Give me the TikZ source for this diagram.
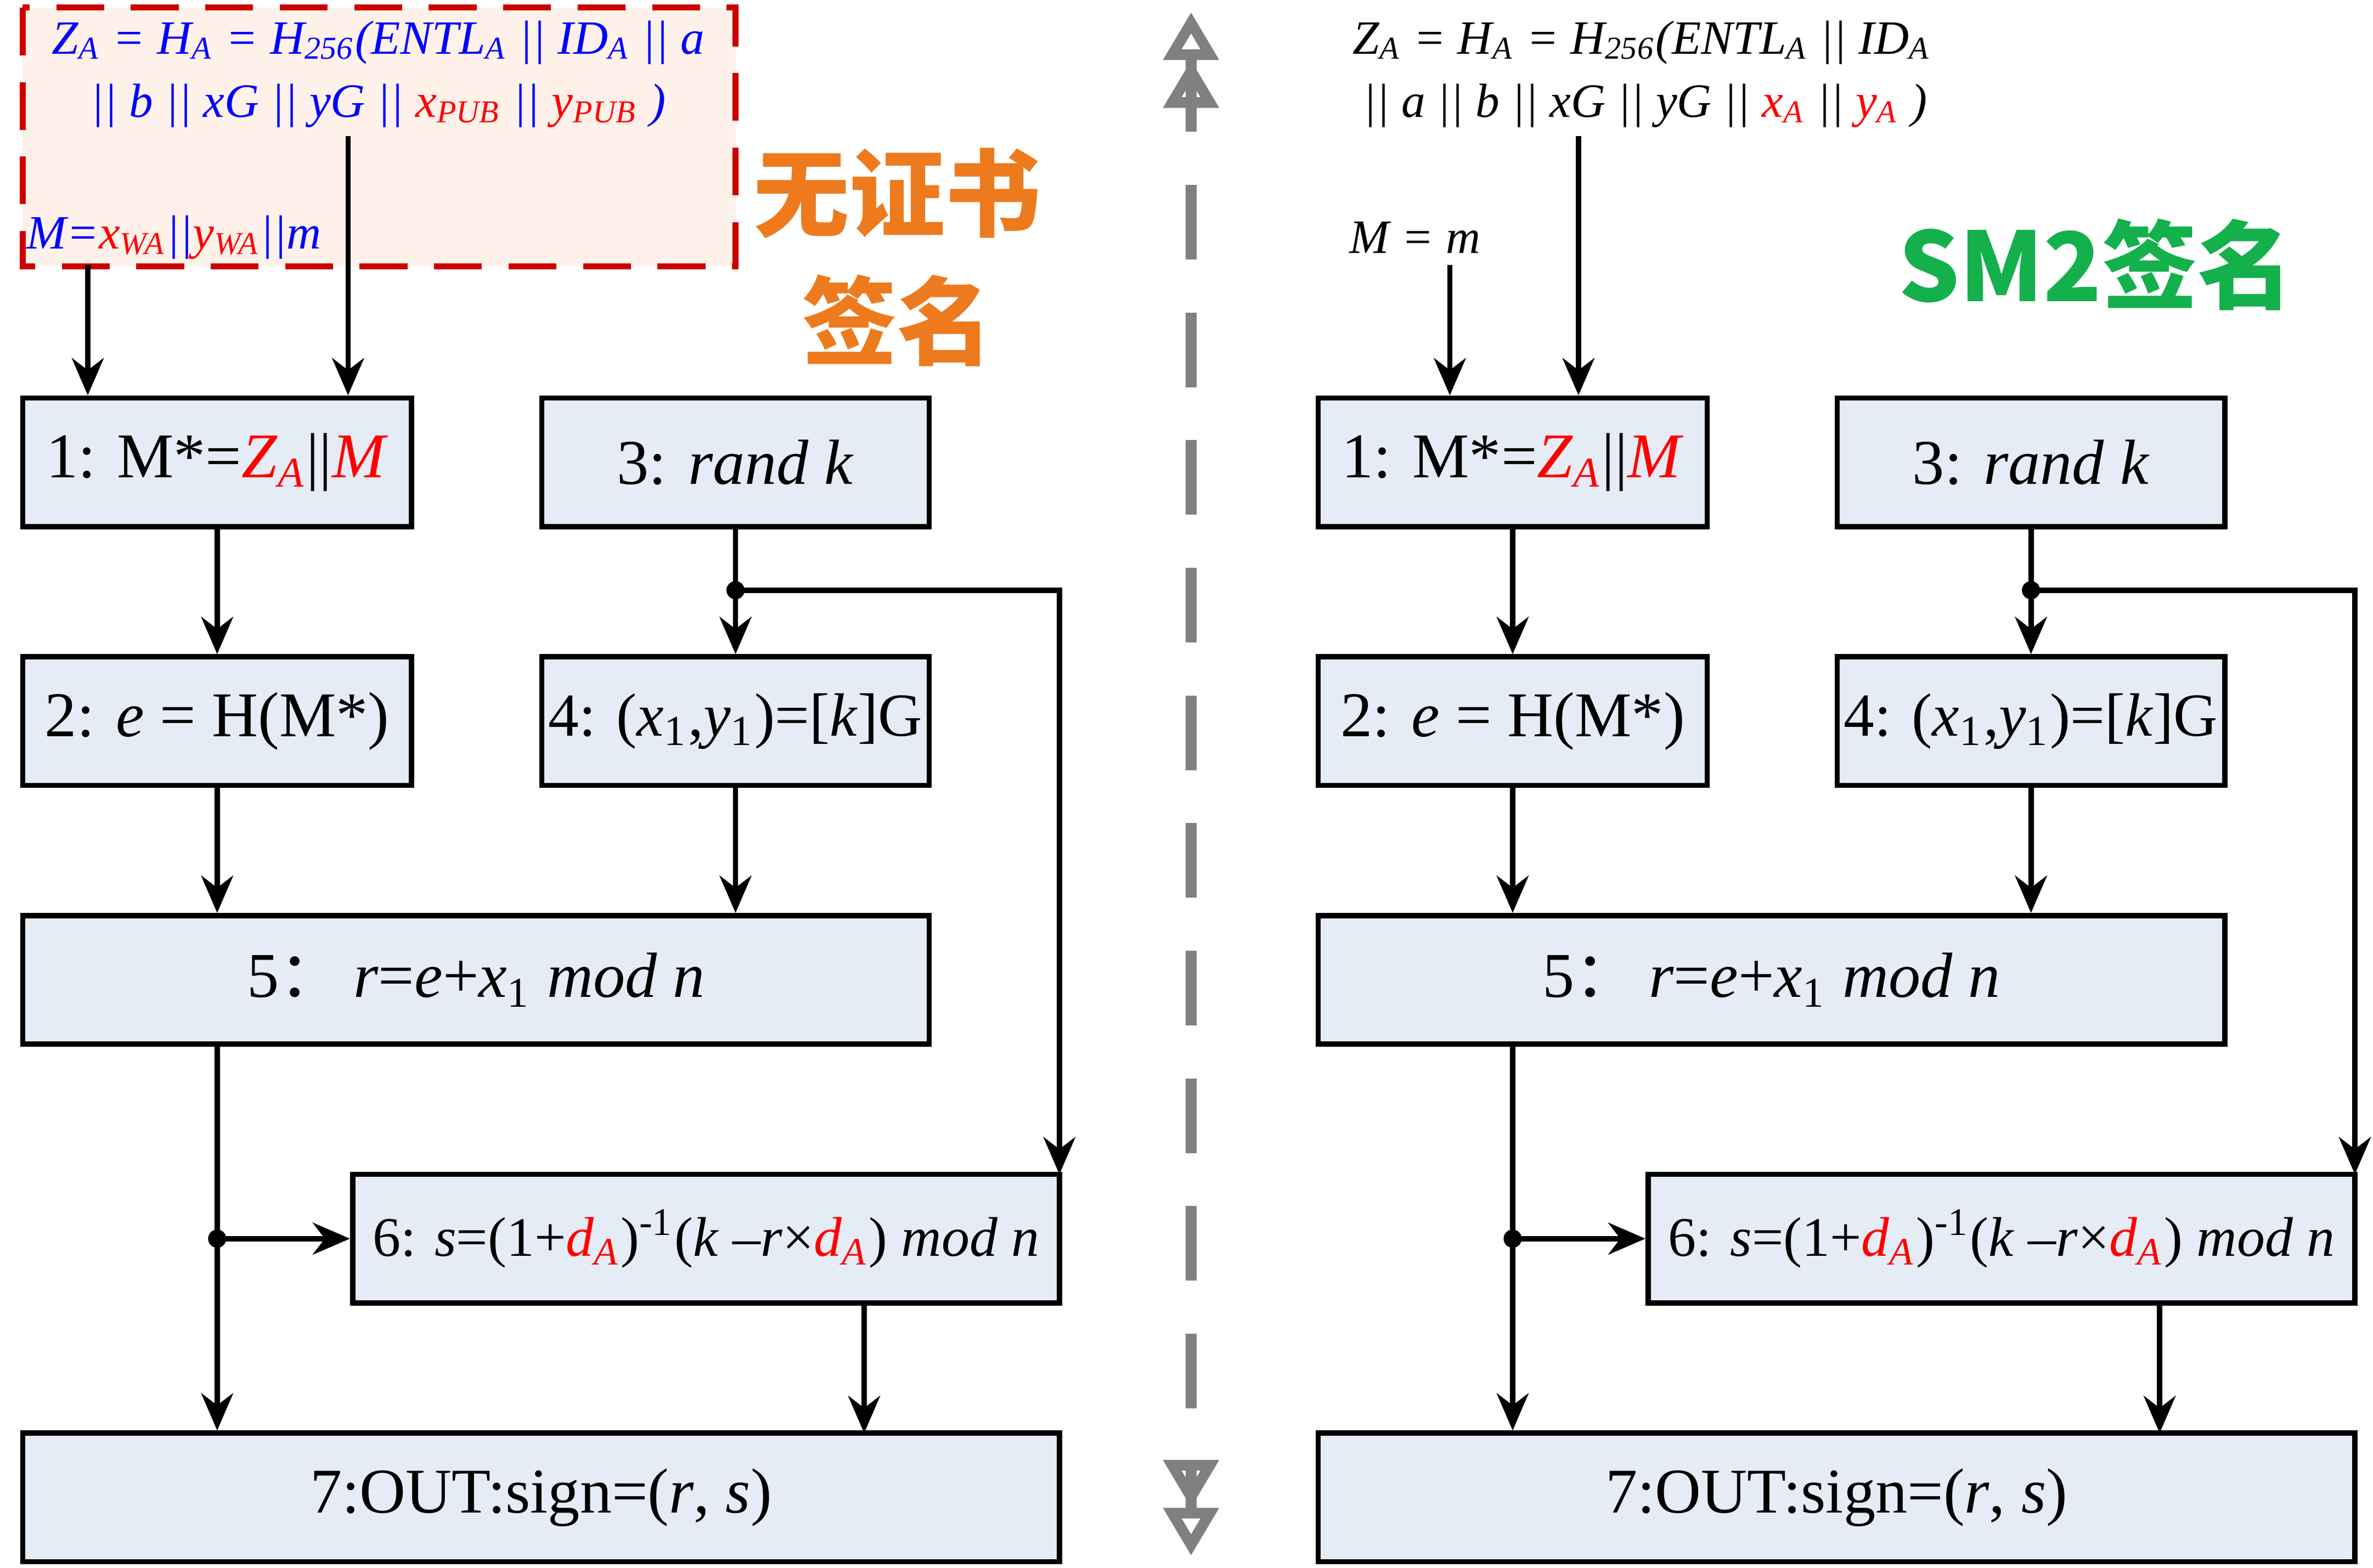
\documentclass[tikz,border=0pt]{standalone}
\usepackage{fontspec}
\setmainfont{Liberation Serif}
\newfontfamily\cjk{Noto Sans CJK SC}
\usetikzlibrary{arrows.meta}
\definecolor{boxfill}{HTML}{E6ECF6}
\definecolor{peach}{HTML}{FDF1EA}
\definecolor{lblorange}{HTML}{EE7A1E}
\definecolor{lblgreen}{HTML}{13B04B}
\newcommand\sub[1]{\textsubscript{#1}}
\newcommand\iv[1]{\textit{#1}}
\begin{document}
\begin{tikzpicture}[
box/.style ={rectangle, draw=black, line width=1pt, fill=boxfill,
  minimum height=0.85cm, inner sep=0pt, font=\fontsize{12}{14}\selectfont
},
note/.style ={inner sep=1pt, font=\fontsize{9}{11}\selectfont\itshape},
arr/.style ={line width=1pt, -{Stealth[length=7pt,width=6pt]}},
dot/.style ={circle, fill=black, inner sep=0pt, minimum size=0.12cm}]
\useasboundingbox (0,0) rectangle (15.68,-10.36);

% dashed red frame (left side input)
\draw[red!80!black, dashed, line width=1.1pt, dash pattern=on 9pt off 5pt, fill=peach]
  (0.15,-0.05) rectangle (4.86,-1.76);

% both columns share the boxes
\foreach \s/\dx in {l/0,r/8.56}{
\begin{scope}[xshift=\dx cm]
\node (\s1) at (1.435,-3.055) [box, minimum width=2.57cm] {1: M*=\textcolor{red}{\iv{Z}\sub{\iv{A}}}||\textcolor{red}{\iv{M}}};
\node (\s3) at (4.86,-3.055) [box, minimum width=2.56cm] {3: \iv{rand k}};
\node (\s2) at (1.435,-4.765) [box, minimum width=2.57cm] {2: \iv{e} = H(M*)};
\node (\s4) at (4.86,-4.765) [box, minimum width=2.56cm, font=\fontsize{11.5}{14}\selectfont] {4: (\iv{x}\sub{1},\iv{y}\sub{1})=[\iv{k}]G};
\node (\s5) at (3.145,-6.475) [box, minimum width=5.99cm] {5{\cjk ：}\,\iv{r}=\iv{e}+\iv{x}\sub{1} \iv{mod n}};
\node (\s6) at (4.665,-8.185) [box, minimum width=4.67cm, font=\fontsize{10.5}{13}\selectfont] {6: \iv{s}=(1+\textcolor{red}{\iv{d}\sub{\iv{A}}})\textsuperscript{-1}(\iv{k} –\iv{r}×\textcolor{red}{\iv{d}\sub{\iv{A}}}) \iv{mod n}};
\node (\s7) at (3.575,-9.895) [box, minimum width=6.85cm] {7:OUT:sign=(\iv{r}, \iv{s})};

\draw[arr] (\s1) -- (\s2);
\draw[arr] (\s2.south) -- (\s2.south |- \s5.north);
\draw[arr] (\s3) -- (\s4);
\draw[arr] (\s4) -- (\s4.south |- \s5.north);
\node (\s k) at (4.86,-3.90) [dot] {};
\draw[arr] (\s k.center) -- (7.0,-3.90) -- (7.0,-7.76);
\node (\s j) at (1.435,-8.185) [dot] {};
\draw[arr] (\s5.south -| \s1) -- (\s1 |- \s7.north);
\draw[arr] (\s j.center) -- (\s6.west);
\draw[arr] (5.71,-8.61) -- (5.71,-9.47);
\end{scope}}

% inputs, left column
\node (zl1) at (2.50,-0.28) [note, text=blue] {\iv{Z}\sub{\iv{A}} = \iv{H}\sub{\iv{A}} = \iv{H}\sub{256}(\iv{ENTL}\sub{\iv{A}} || \iv{ID}\sub{\iv{A}} || \iv{a}};
\node (zl2) at (2.50,-0.70) [note, text=blue] {|| \iv{b} || \iv{xG} || \iv{yG} || \textcolor{red}{\iv{x}\sub{\iv{PUB}}} || \textcolor{red}{\iv{y}\sub{\iv{PUB}}} )};
\node (ml) at (1.15,-1.57) [note, text=blue] {\iv{M}=\textcolor{red}{\iv{x}\sub{\iv{WA}}}||\textcolor{red}{\iv{y}\sub{\iv{WA}}}||\iv{m}};
\coordinate (zlt) at (2.30,-0.90);
\coordinate (mlt) at (0.58,-1.75);
\draw[arr] (mlt) -- (mlt |- l1.north);
\draw[arr] (zlt) -- (zlt |- l1.north);

% inputs, right column
\node (zr1) at (10.85,-0.28) [note] {\iv{Z}\sub{\iv{A}} = \iv{H}\sub{\iv{A}} = \iv{H}\sub{256}(\iv{ENTL}\sub{\iv{A}} || \iv{ID}\sub{\iv{A}}};
\node (zr2) at (10.87,-0.70) [note] {|| \iv{a} || \iv{b} || \iv{xG} || \iv{yG} || \textcolor{red}{\iv{x}\sub{\iv{A}}} || \textcolor{red}{\iv{y}\sub{\iv{A}}} )};
\node (mr) at (9.35,-1.57) [note] {\iv{M} = \iv{m}};
\coordinate (zrt) at (10.43,-0.90);
\coordinate (mrt) at (9.58,-1.75);
\draw[arr] (mrt) -- (mrt |- r1.north);
\draw[arr] (zrt) -- (zrt |- r1.north);

% titles
\node (tl) at (5.93,-1.70) [align=center, text=lblorange, font=\cjk\bfseries\fontsize{18}{24}\selectfont] {无证书\\签名};
\node (tr) at (13.85,-1.75) [text=lblgreen, font=\cjk\bfseries\fontsize{18}{24}\selectfont] {SM2签名};

% divider
\coordinate (dtop) at (7.87,-0.08);
\coordinate (dbot) at (7.87,-10.28);
\draw[gray, line width=2pt, dash pattern=on 14pt off 10pt,
  {Triangle[open,length=9pt,width=10pt]Triangle[open,length=9pt,width=10pt]}-{Triangle[open,length=9pt,width=10pt]Triangle[open,length=9pt,width=10pt]}]
  (dtop) -- (dbot);
\end{tikzpicture}
\end{document}
